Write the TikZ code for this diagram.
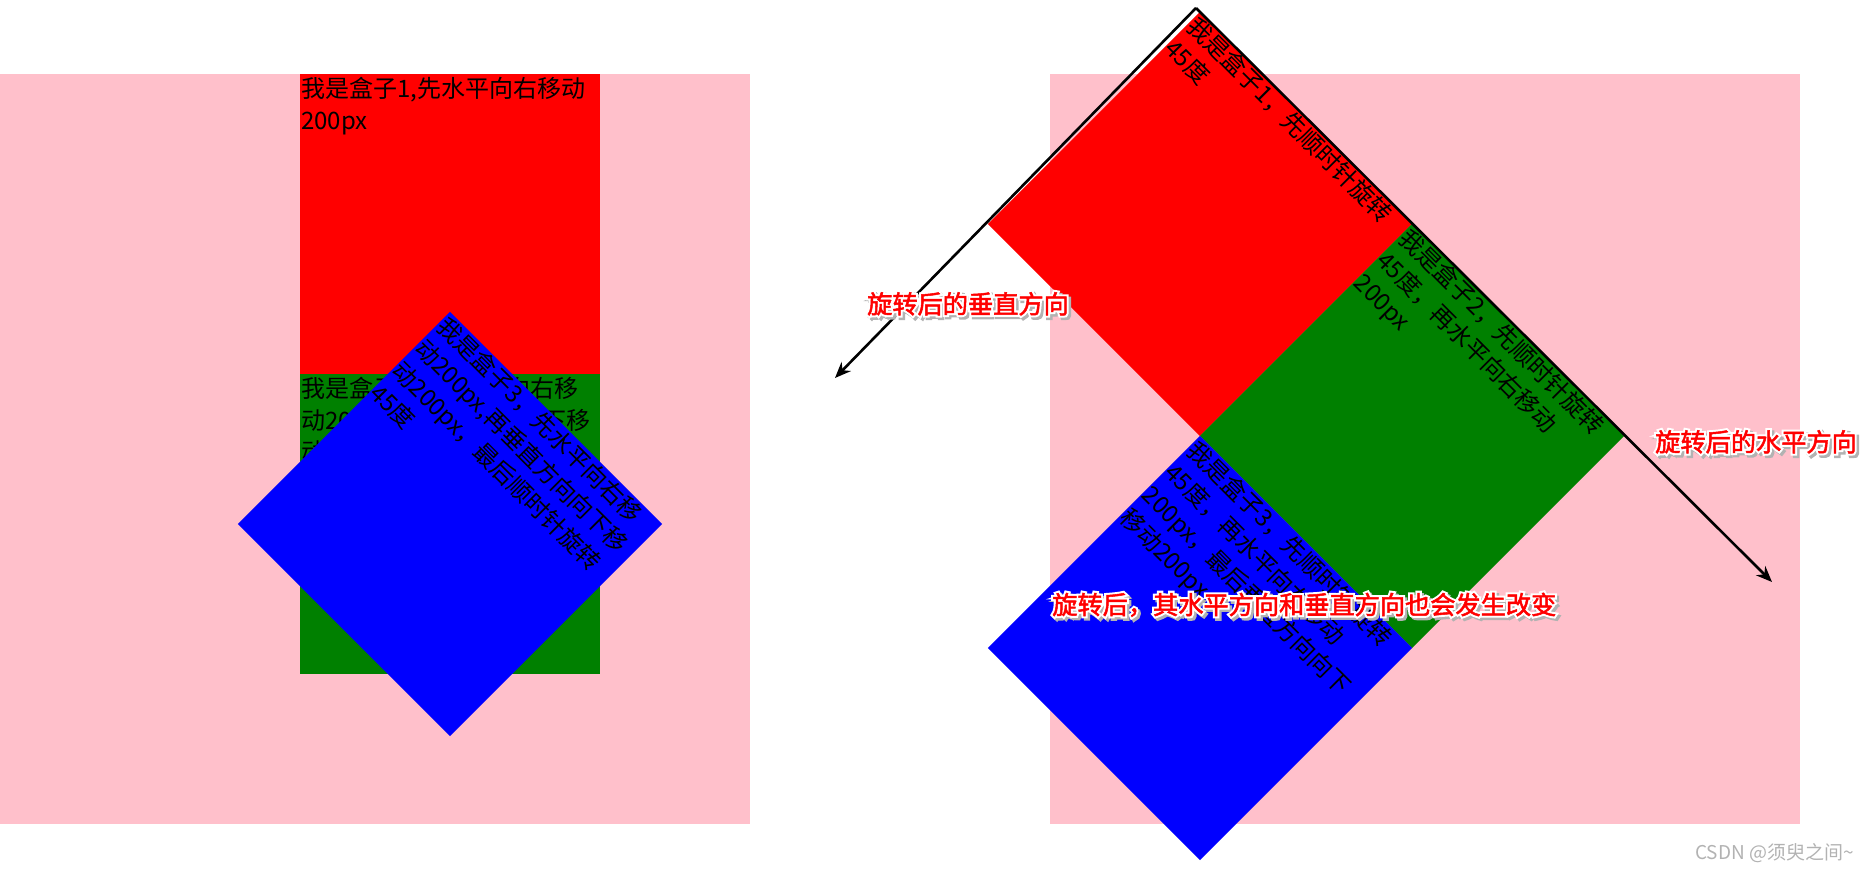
\documentclass[tikz,border=0pt]{standalone}
\usepackage{fontspec}
\setmainfont{Noto Sans CJK SC}
\newfontfamily\labelfont[FakeBold=2]{Noto Sans CJK SC}
\newfontfamily\haloFont[FakeBold=18]{Noto Sans CJK SC}
\usetikzlibrary{arrows.meta}
\definecolor{cssPink}{HTML}{FFC0CB}
\definecolor{cssGreen}{HTML}{008000}
\newcommand\halo[1]{%
  \rlap{\color{black!30}\kern1.2pt\raisebox{-1.2pt}{\haloFont#1}}%
  \rlap{\color{white}\haloFont#1}%
  #1}
\begin{document}
\begin{tikzpicture}[x=0.5pt,y=-0.5pt,
                    line width=1.3pt]
    \tikzstyle{square}=[rectangle,minimum size=150pt,inner sep=0pt,outer sep=0pt]
    \tikzstyle{stage}=[square,fill=cssPink,minimum size=375pt]
    \tikzstyle{diamond45}=[square,rotate=45]
    \tikzstyle{txt}=[inner sep=0pt,align=left,anchor=north west,
                     font=\fontsize{12pt}{15.8pt}\selectfont]
    \tikzstyle{turned}=[txt,rotate=-45]
    \tikzstyle{note}=[text=red,inner sep=0pt,font=\labelfont\fontsize{12.6pt}{15pt}\selectfont]
    \tikzstyle{axis}=[draw=black,-{Stealth[length=8pt,width=6.5pt]}]

    \useasboundingbox (0,0) rectangle (1869,870);

    \node[stage] (leftstage) at (375,449) {};
    \node[square,fill=red] (boxA) at (450,224) {};
    \node[square,fill=cssGreen] (boxB) at (450,524) {};
    \node[txt] (textA) at (300,76) {我是盒子1,先水平向右移动\\200px};
    \node[txt] (textB) at (300,376) {我是盒子2，先水平向右移\\动200px,再垂直方向向下移\\动200px};
    \node[diamond45,fill=blue] (boxC) at (450,524) {};
    \node[turned] (textC) at (boxC.north east) {我是盒子3，先水平向右移\\动200px,再垂直方向向下移\\动200px，最后顺时针旋转\\45度};

    \node[stage] (rightstage) at (1425,449) {};
    \node[diamond45,fill=red] (turnA) at (1200,224) {};
    \node[diamond45,fill=cssGreen] (turnB) at (1412,436) {};
    \node[diamond45,fill=blue] (turnC) at (1200,648) {};
    \node[turned] (turnTextA) at (turnA.north east) {我是盒子1，先顺时针旋转\\45度};
    \node[turned] (turnTextB) at (turnB.north east) {我是盒子2，先顺时针旋转\\45度，再水平向右移动\\200px};
    \node[turned] (turnTextC) at (turnC.north east) {我是盒子3，先顺时针旋转\\45度，再水平向右移动\\200px，最后垂直方向向下\\移动200px};

    \coordinate (origin) at (1196,8);
    \coordinate (vEnd) at (835,378);
    \coordinate (hEnd) at (1772,582);
    \draw[axis] (origin) -- (vEnd);
    \draw[axis] (origin) -- (hEnd);

    \node[note] (vLabel) at (968,305) {\halo{旋转后的垂直方向}};
    \node[note] (hLabel) at (1756,443) {\halo{旋转后的水平方向}};
    \node[note,anchor=west] (changeLabel) at (1051,606) {\halo{旋转后，其水平方向和垂直方向也会发生改变}};

    \node[text=black!30,inner sep=0pt,anchor=east,font=\fontsize{9.5pt}{11pt}\selectfont] (mark) at (1855,853) {CSDN @须臾之间\textasciitilde};

\end{tikzpicture}
\end{document}
